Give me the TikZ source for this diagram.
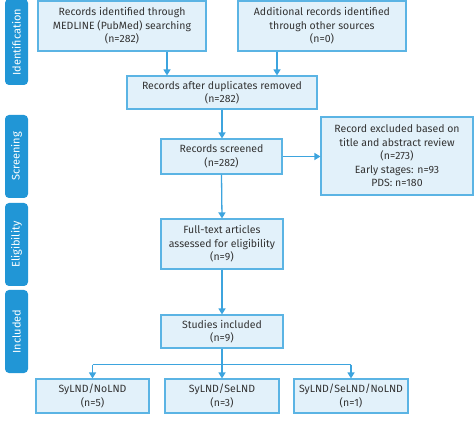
\documentclass[tikz,border=0pt]{standalone}
\usepackage{fontspec}
\setmainfont{Fira Sans}
\usetikzlibrary{arrows.meta}
\definecolor{barblue}{HTML}{2196D6}
\definecolor{edgeblue}{HTML}{5BB4E4}
\definecolor{fillblue}{HTML}{E2F1FA}
\definecolor{arrblue}{HTML}{3DA4DE}
\definecolor{txt}{HTML}{333333}
\tikzset{
  box/.style={draw=edgeblue, line width=1.1pt, fill=fillblue, align=center, inner sep=0pt,
    font=\fontsize{10.5}{13.5}\selectfont, text=txt},
  bar/.style={fill=barblue, rounded corners=4pt, rotate=90, minimum height=23pt, inner sep=0pt,
    text=white, font=\fontsize{11}{12}\selectfont},
  arr/.style={draw=arrblue, line width=1.3pt, -{Triangle[width=7pt,length=6pt]}},
  ln/.style={draw=arrblue, line width=1.3pt},
}
\begin{document}
\begin{tikzpicture}[x=1pt,y=-1pt]
\useasboundingbox (0,0) rectangle (474,430);
\clip (0,0) rectangle (474,430);
% side bars
\node[bar, minimum width=86pt] (bid) at (16.5,42) {Identification};
\node[bar, minimum width=83pt] (bsc) at (16.5,156.5) {Screening};
\node[bar, minimum width=83pt] (bel) at (16.5,244.5) {Eligibility};
\node[bar, minimum width=83pt] (bin) at (16.5,331.5) {Included};
% boxes
\node[box, minimum width=168pt, minimum height=50pt] (b1) at (122,26) {Records identified through\\MEDLINE (PubMed) searching\\(n=282)};
\node[box, minimum width=168pt, minimum height=50pt] (b2) at (322,26) {Additional records identified\\through other sources\\(n=0)};
\node[box, minimum width=190pt, minimum height=33pt] (b3) at (222,92.5) {Records after duplicates removed\\(n=282)};
\node[box, minimum width=121pt, minimum height=35pt] (b4) at (221.5,156.5) {Records screened\\(n=282)};
\node[box, minimum width=152pt, minimum height=78pt] (b5) at (397,156) {Record excluded based on\\title and abstract review\\(n=273)\\Early stages: n=93\\PDS: n=180};
\node[box, minimum width=122pt, minimum height=50pt] (b6) at (222,244) {Full-text articles\\assessed for eligibility\\(n=9)};
\node[box, minimum width=122pt, minimum height=33pt] (b7) at (222,331.5) {Studies included\\(n=9)};
\node[box, minimum width=113pt, minimum height=34pt] (b8) at (92.5,396) {SyLND/NoLND\\(n=5)};
\node[box, minimum width=114pt, minimum height=34pt] (b9) at (222,396) {SyLND/SeLND\\(n=3)};
\node[box, minimum width=114pt, minimum height=34pt] (b10) at (351,396) {SyLND/SeLND/NoLND\\(n=1)};
% connectors
\draw[arr] ([xshift=45pt]b1.south) -- ([xshift=45pt]b1.south |- b3.north);
\draw[arr] ([xshift=-45pt]b2.south) -- ([xshift=-45pt]b2.south |- b3.north);
\draw[arr] (b3.south) -- (b3.south |- b4.north);
\draw[arr] (b4.east) -- (b4.east -| b5.west);
\draw[arr] (b4.south) -- (b6.north);
\draw[arr] (b6.south) -- (b7.north);
\draw[ln] (b7.south) -- ++(0,16) coordinate (j);
\draw[ln] (j -| b8.north) -- (j -| b10.north);
\draw[arr] (j -| b8.north) -- (b8.north);
\draw[arr] (j) -- (b9.north);
\draw[arr] (j -| b10.north) -- (b10.north);
\end{tikzpicture}
\end{document}
